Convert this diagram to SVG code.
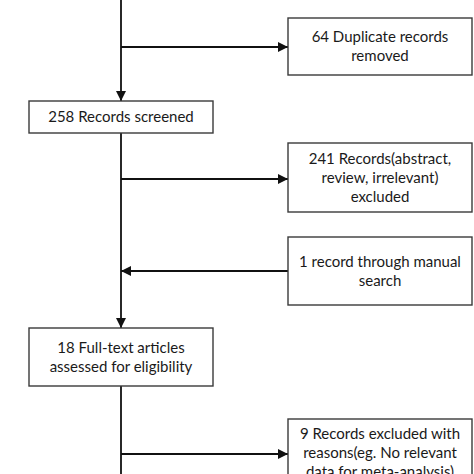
<svg xmlns="http://www.w3.org/2000/svg" width="474" height="474" viewBox="0 0 474 474">
<style>
.box rect{fill:#fff;stroke:#3a3a3a;stroke-width:1.4}
.box text{font-family:Lato,"Liberation Sans",sans-serif;font-size:15px;fill:#1a1a1a;text-anchor:middle}
.c line{stroke:#111;stroke-width:1.8}
</style>
<defs>
<marker id="ah" viewBox="0 0 10 10" refX="10" refY="5" markerWidth="10" markerHeight="10" markerUnits="userSpaceOnUse" orient="auto">
<path d="M0,0 L10,5 L0,10 Z" fill="#111"/>
</marker>
</defs>
<rect width="474" height="474" fill="#fff"/>
<g class="c">
<line x1="121" y1="0" x2="121" y2="101" marker-end="url(#ah)"/>
<line x1="121" y1="47" x2="288" y2="47" marker-end="url(#ah)"/>
<line x1="121" y1="133" x2="121" y2="328" marker-end="url(#ah)"/>
<line x1="121" y1="179" x2="288" y2="179" marker-end="url(#ah)"/>
<line x1="288" y1="271" x2="121" y2="271" marker-end="url(#ah)"/>
<line x1="121" y1="386" x2="121" y2="474"/>
<line x1="121" y1="454" x2="288" y2="454" marker-end="url(#ah)"/>
</g>
<g id="n1" class="box">
<rect x="288" y="18" width="184" height="57"/>
<text x="380" y="42">64 Duplicate records</text>
<text x="380" y="61">removed</text>
</g>
<g id="n2" class="box">
<rect x="29" y="101" width="184" height="32"/>
<text x="121" y="122">258 Records screened</text>
</g>
<g id="n3" class="box">
<rect x="288" y="143" width="184" height="69"/>
<text x="380" y="164">241 Records(abstract,</text>
<text x="380" y="183">review, irrelevant)</text>
<text x="380" y="202">excluded</text>
</g>
<g id="n4" class="box">
<rect x="288" y="237" width="184" height="68"/>
<text x="380" y="267">1 record through manual</text>
<text x="380" y="286">search</text>
</g>
<g id="n5" class="box">
<rect x="29" y="328" width="184" height="58"/>
<text x="121" y="353">18 Full-text articles</text>
<text x="121" y="372">assessed for eligibility</text>
</g>
<g id="n6" class="box">
<rect x="288" y="419" width="184" height="80"/>
<text x="380" y="439">9 Records excluded with</text>
<text x="380" y="458">reasons(eg. No relevant</text>
<text x="380" y="477">data for meta-analysis)</text>
</g>
</svg>
